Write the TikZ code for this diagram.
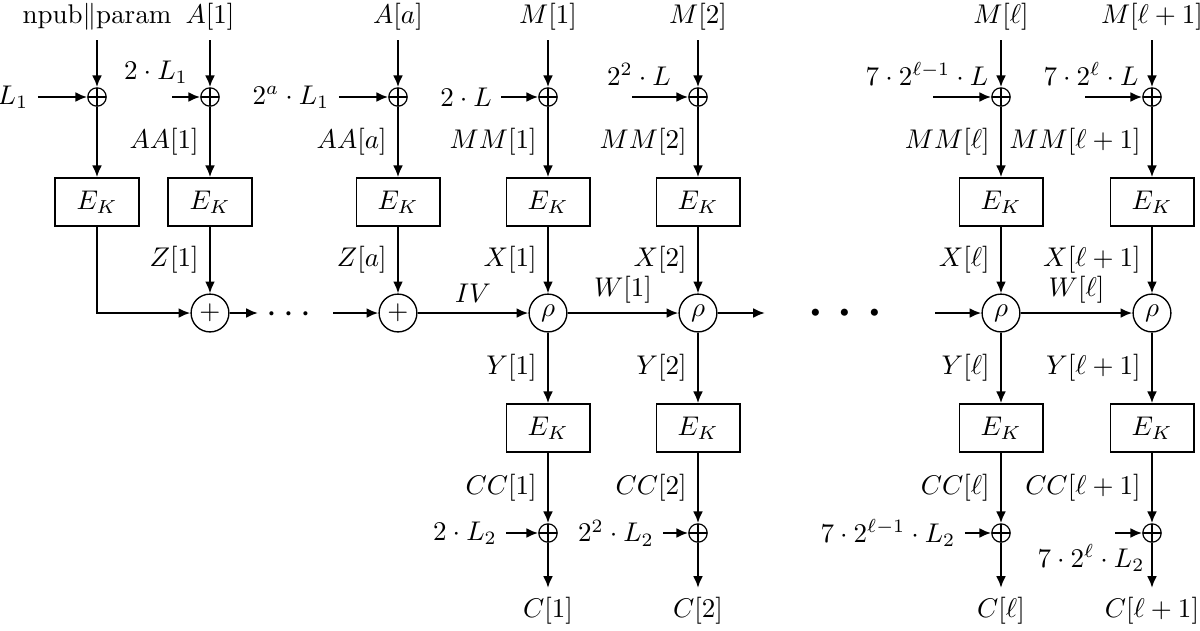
\documentclass[tikz,border=0pt]{standalone}
\usepackage{amsmath}
\usetikzlibrary{arrows.meta}

\begin{document}
\begin{tikzpicture}[x=0.37pt,y=-0.37pt]
\tikzset{blk/.style={draw,line width=0.45pt,minimum width=31pt,minimum height=17.8pt,inner sep=0pt}}
\tikzset{xorsym/.style={circle,draw,line width=0.45pt,minimum size=6.8pt,inner sep=0pt,
  path picture={\draw[line width=0.45pt] (path picture bounding box.north) -- (path picture bounding box.south)
  (path picture bounding box.west) -- (path picture bounding box.east);}}}
\tikzset{rnd/.style={circle,draw,line width=0.5pt,minimum size=14pt,inner sep=0pt}}
\tikzset{wire/.style={line width=0.85pt,-{Latex[length=4.4pt,width=3.7pt]}}}
\tikzset{lbl/.style={inner sep=3.8pt}}

\useasboundingbox (0,0) rectangle (1200,630);

% associated data
\node (np) at (97,17) {$\mathrm{npub}\|\mathrm{param}$};
\node[xorsym] (xn) at (97,97) {};
\node (l1) at (13,97) {$L_1$};
\node[blk] (e0) at (97,202) {$E_K$};
\draw[wire] (np) -- (xn);
\draw[wire] (l1) -- (xn);
\draw[wire] (xn) -- (e0);

\node (a1) at (210,17) {$A[1]$};
\node[xorsym] (xa1) at (210,97) {};
\node[anchor=base] (ka1) at (156,79) {$2\cdot L_1$};
\coordinate (ka1s) at (172,97);
\node[blk] (ez1) at (210,202) {$E_K$};
\node[rnd] (p1) at (210,313) {$+$};
\draw[wire] (a1) -- (xa1);
\draw[wire] (ka1s) -- (xa1);
\draw[wire] (xa1) -- node[lbl,left] (aa1) {$AA[1]$} (ez1);
\draw[wire] (ez1) -- node[lbl,left] (z1) {$Z[1]$} (p1);

\node (aa) at (398,17) {$A[a]$};
\node[xorsym] (xaa) at (398,97) {};
\node (kaa) at (291,97) {$2^a\cdot L_1$};
\node[blk] (eza) at (398,202) {$E_K$};
\node[rnd] (p2) at (398,313) {$+$};
\draw[wire] (aa) -- (xaa);
\draw[wire] (kaa) -- (xaa);
\draw[wire] (xaa) -- node[lbl,left] (aaa) {$AA[a]$} (eza);
\draw[wire] (eza) -- node[lbl,left] (za) {$Z[a]$} (p2);

% message columns
\foreach \c/\x/\i in {1/548/1,2/698/2,l/1001/\ell,m/1152/\ell+1}{
  \node (m\c) at (\x,17) {$M[\i]$};
  \node[xorsym] (xm\c) at (\x,97) {};
  \node[blk] (ea\c) at (\x,202) {$E_K$};
  \node[rnd] (r\c) at (\x,313) {$\rho$};
  \node[blk] (eb\c) at (\x,428) {$E_K$};
  \node[xorsym] (xc\c) at (\x,533) {};
  \node (c\c) at (\x,611) {$C[\i]$};
  \draw[wire] (m\c) -- (xm\c);
  \draw[wire] (xm\c) -- node[lbl,left] (mm\c) {$MM[\i]$} (ea\c);
  \draw[wire] (ea\c) -- node[lbl,left] (x\c) {$X[\i]$} (r\c);
  \draw[wire] (r\c) -- node[lbl,left] (y\c) {$Y[\i]$} (eb\c);
  \draw[wire] (eb\c) -- node[lbl,left] (cc\c) {$CC[\i]$} (xc\c);
  \draw[wire] (xc\c) -- (c\c);
}

% masks
\node (k1) at (466,97) {$2\cdot L$};
\draw[wire] (k1) -- (xm1);
\node[anchor=base] (k2) at (639,85) {$2^2\cdot L$};
\coordinate (k2s) at (632,97);
\draw[wire] (k2s) -- (xm2);
\node[anchor=base] (kl) at (927,85) {$7\cdot 2^{\ell-1}\cdot L$};
\coordinate (kls) at (933,97);
\draw[wire] (kls) -- (xml);
\node[anchor=base] (km) at (1091,85) {$7\cdot 2^{\ell}\cdot L$};
\coordinate (kms) at (1085,97);
\draw[wire] (kms) -- (xmm);

\node (q1) at (465,533) {$2\cdot L_2$};
\draw[wire] (q1) -- (xc1);
\node (q2) at (616,533) {$2^2\cdot L_2$};
\draw[wire] (q2) -- (xc2);
\node (ql) at (888,533) {$7\cdot 2^{\ell-1}\cdot L_2$};
\draw[wire] (ql) -- (xcl);
\node (qm) at (1091,558) {$7\cdot 2^{\ell}\cdot L_2$};
\coordinate (qms) at (1115,533);
\draw[wire] (qms) -- (xcm);

% chain
\draw[wire] (e0) |- (p1);
\coordinate (d1s) at (258,313);
\draw[wire] (p1) -- (d1s);
\node[font=\Large,anchor=base] (dots1) at (292,323) {$\cdots$};
\coordinate (d1e) at (333,313);
\draw[wire] (d1e) -- (p2);
\draw[wire] (p2) -- node[above] (iv) {$IV$} (r1);
\draw[wire] (r1) -- node[above] (w1) {$W[1]$} (r2);
\coordinate (d2s) at (765,313);
\draw[wire] (r2) -- (d2s);
\node[font=\fontsize{23.5}{24}\selectfont,anchor=base] (dots2) at (851,329) {$\cdots$};
\coordinate (d2e) at (935,313);
\draw[wire] (d2e) -- (rl);
\draw[wire] (rl) -- node[above] (wl) {$W[\ell]$} (rm);

\end{tikzpicture}
\end{document}
